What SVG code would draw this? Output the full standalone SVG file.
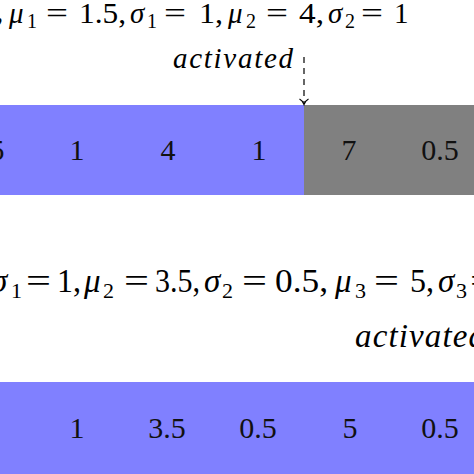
<svg xmlns="http://www.w3.org/2000/svg" width="474" height="474" viewBox="0 0 474 474">
<defs>
<style>
.m{font-family:"Liberation Serif","DejaVu Serif",serif;fill:#000}
.i{font-style:italic}
.t{font-size:29px}
.ts{font-size:20px}
.b{font-size:33px}
.bs{font-size:22px}
.n{font-family:"Liberation Serif","DejaVu Serif",serif;font-size:30px;text-anchor:middle;fill:#111}
.blue{fill:#8080ff}
.gray{fill:#808080}
</style>
</defs>
<rect width="474" height="474" fill="#fff"/>
<g id="formula-top" class="m t">
<text x="-4" y="21">,</text>
<text x="9" y="23" class="i">μ</text><text x="27" y="28" class="ts">1</text>
<text x="46" y="23" textLength="22" lengthAdjust="spacingAndGlyphs">=</text>
<text x="79" y="23" textLength="47" lengthAdjust="spacingAndGlyphs">1.5,</text>
<text x="130" y="23" class="i">σ</text><text x="147" y="28" class="ts">1</text>
<text x="164" y="23" textLength="22" lengthAdjust="spacingAndGlyphs">=</text>
<text x="199" y="23" textLength="24" lengthAdjust="spacingAndGlyphs">1,</text>
<text x="228" y="23" class="i">μ</text><text x="246" y="28" class="ts">2</text>
<text x="266" y="23" textLength="22" lengthAdjust="spacingAndGlyphs">=</text>
<text x="299" y="23" textLength="25" lengthAdjust="spacingAndGlyphs">4,</text>
<text x="328" y="23" class="i">σ</text><text x="345" y="28" class="ts">2</text>
<text x="361" y="23" textLength="22" lengthAdjust="spacingAndGlyphs">=</text>
<text x="394" y="23">1</text>
</g>
<g id="label-activated-top">
<text x="173" y="68" class="m i t" textLength="120" lengthAdjust="spacing">activated</text>
</g>
<g id="bar-top">
<rect x="0" y="105" width="304" height="90" class="blue"/>
<rect x="304" y="105" width="170" height="90" class="gray"/>
<text x="-3" y="160" class="n">5</text>
<text x="77" y="160" class="n">1</text>
<text x="168" y="160" class="n">4</text>
<text x="259" y="160" class="n">1</text>
<text x="349" y="160" class="n">7</text>
<text x="440" y="160" class="n">0.5</text>
</g>
<g id="formula-bottom" class="m b">
<text x="-9" y="292" class="i">σ</text><text x="11" y="298" class="bs">1</text>
<text x="26" y="292" textLength="25" lengthAdjust="spacingAndGlyphs">=</text>
<text x="57" y="292" textLength="24" lengthAdjust="spacingAndGlyphs">1,</text>
<text x="84" y="292" class="i">μ</text><text x="103" y="298" class="bs">2</text>
<text x="124" y="292" textLength="25" lengthAdjust="spacingAndGlyphs">=</text>
<text x="155" y="292" textLength="45" lengthAdjust="spacingAndGlyphs">3.5,</text>
<text x="204" y="292" class="i">σ</text><text x="222" y="298" class="bs">2</text>
<text x="242" y="292" textLength="25" lengthAdjust="spacingAndGlyphs">=</text>
<text x="275" y="292" textLength="53" lengthAdjust="spacingAndGlyphs">0.5,</text>
<text x="335" y="292" class="i">μ</text><text x="355" y="298" class="bs">3</text>
<text x="374" y="292" textLength="25" lengthAdjust="spacingAndGlyphs">=</text>
<text x="410" y="292" textLength="24" lengthAdjust="spacingAndGlyphs">5,</text>
<text x="438" y="292" class="i">σ</text><text x="456" y="298" class="bs">3</text>
<text x="470" y="292" textLength="25" lengthAdjust="spacingAndGlyphs">=</text>
</g>
<g id="label-activated-bottom">
<text x="355" y="347" class="m i b" textLength="130" lengthAdjust="spacing">activated</text>
</g>
<g id="bar-bottom">
<rect x="0" y="382" width="474" height="92" class="blue"/>
<text x="77" y="438" class="n">1</text>
<text x="167" y="438" class="n">3.5</text>
<text x="258" y="438" class="n">0.5</text>
<text x="350" y="438" class="n">5</text>
<text x="440" y="438" class="n">0.5</text>
</g>
<g id="connectors" fill="none" stroke="#000" stroke-width="1.2">
<line x1="304" y1="57" x2="304" y2="103" stroke-dasharray="6,5"/>
<path d="M299.5,99 Q302.5,100.5 304,104.5 Q305.5,100.5 308.5,99"/>
</g>
</svg>
